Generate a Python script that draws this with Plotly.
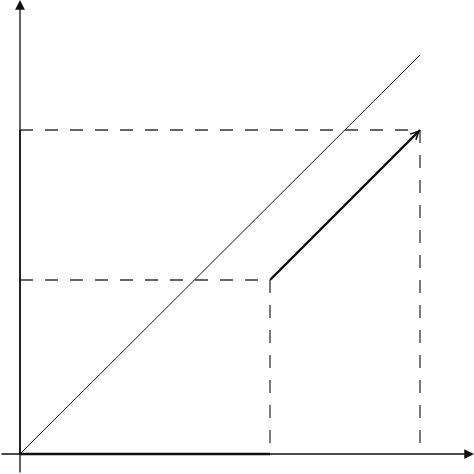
import plotly.graph_objects as go

# picture in plain pixel-like units, origin at the axis crossing
diag_x = [0, 400]
diag_y = [0, 399]

low_x = [0, 250]      # thick part lying on the x axis
low_y = [0, 0]

high_x = [250, 400]   # thick part after the jump, ends with an arrow
high_y = [174, 324]

guide_x = [250, 400]  # where the dashed guides drop to the x axis
guide_y = [174, 324]  # where the dashed guides meet the y axis

ink = "#111111"
dash_col = "#333333"

fig = go.Figure()

# dashed guide lines
for gx, gy in zip(guide_x, guide_y):
    fig.add_trace(go.Scatter(x=[0, gx], y=[gy, gy], mode="lines",
                             line=dict(color=dash_col, width=1.3, dash="13px,12px")))
    fig.add_trace(go.Scatter(x=[gx, gx], y=[gy, 0], mode="lines",
                             line=dict(color=dash_col, width=1.3, dash="13px,12px")))

# thin diagonal
fig.add_trace(go.Scatter(x=diag_x, y=diag_y, mode="lines",
                         line=dict(color=ink, width=1)))

# slightly heavier y-axis part up to the top level
fig.add_trace(go.Scatter(x=[0, 0], y=[0, max(guide_y)], mode="lines",
                         line=dict(color=ink, width=1.6)))

# thick pieces
fig.add_trace(go.Scatter(x=low_x, y=low_y, mode="lines",
                         line=dict(color=ink, width=2.4)))
fig.add_trace(go.Scatter(x=high_x, y=high_y, mode="lines",
                         line=dict(color=ink, width=2)))

# axes with arrows
fig.add_annotation(x=454, y=0, ax=-20, ay=0, xref="x", yref="y", axref="x", ayref="y",
                   showarrow=True, arrowhead=2, arrowsize=1.5, arrowwidth=1.3,
                   arrowcolor=ink, text="")
fig.add_annotation(x=0, y=454, ax=0, ay=-20, xref="x", yref="y", axref="x", ayref="y",
                   showarrow=True, arrowhead=2, arrowsize=1.5, arrowwidth=1.3,
                   arrowcolor=ink, text="")
# arrow head on the upper thick piece
fig.add_annotation(x=high_x[1], y=high_y[1], ax=high_x[0], ay=high_y[0],
                   xref="x", yref="y", axref="x", ayref="y",
                   showarrow=True, arrowhead=5, arrowsize=0.8, arrowwidth=2,
                   arrowcolor=ink, text="")

fig.update_layout(
    width=474, height=474,
    margin=dict(l=0, r=0, t=0, b=0),
    paper_bgcolor="white", plot_bgcolor="white",
    showlegend=False,
    hovermode=False,
    xaxis=dict(range=[-20, 454], visible=False, fixedrange=True),
    yaxis=dict(range=[-20, 454], visible=False, fixedrange=True),
)

# page body has a default 8px margin, drop it so the figure sits at 0,0
fig.write_html("out.html", config={"displayModeBar": False},
               post_script="document.body.style.margin='0';")
